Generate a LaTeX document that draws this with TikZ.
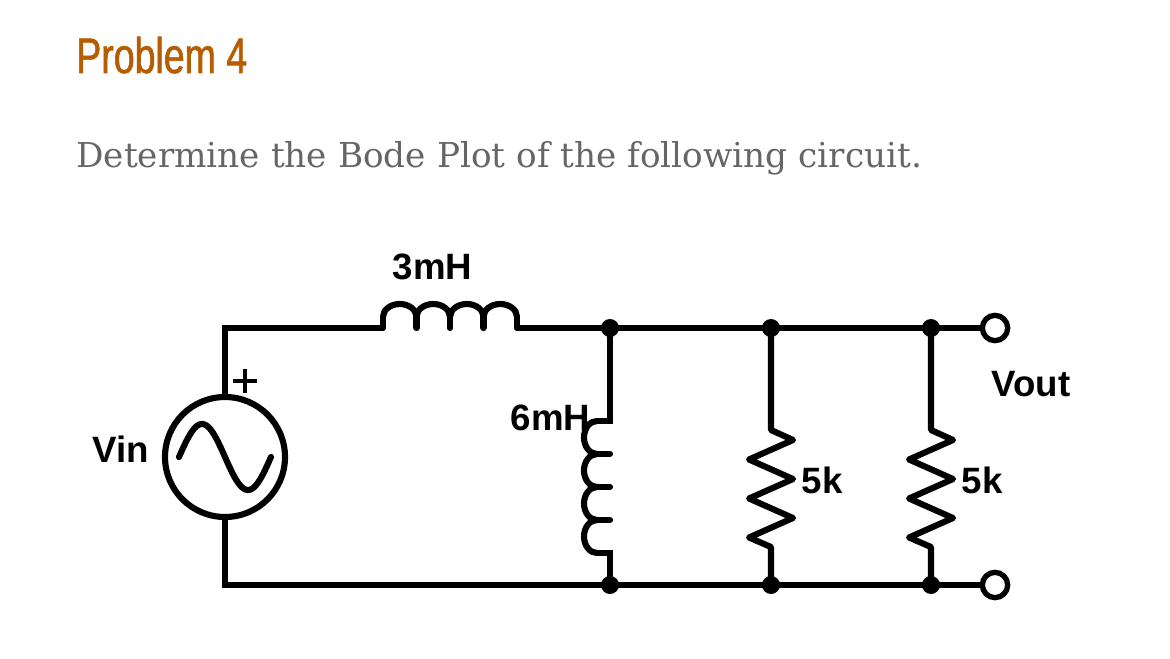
\documentclass[tikz,border=0pt]{standalone}
\usepackage{fontspec}
\usepackage{xcolor}
\usepackage{tikz}
\setmainfont{Liberation Sans}
\newfontfamily\titlefont[FakeStretch=0.75, FakeBold=1.2]{Liberation Sans}
\newfontfamily\questionfont{DejaVu Serif}
\definecolor{titleorange}{HTML}{B55D00}
\definecolor{textgray}{HTML}{666666}

\tikzset{
  wire/.style={line width=4.6pt, line join=miter},
  coil/.style={line width=4.6pt, line cap=round},
  dot/.style={circle, fill=black, inner sep=0pt, minimum size=13.5pt},
  term/.style={circle, draw=black, fill=white, line width=4pt, inner sep=0pt, minimum size=19pt},
  lbl/.style={font=\fontsize{27.5}{30}\selectfont\bfseries, inner sep=0pt, anchor=base}
}

\begin{document}
\begin{tikzpicture}[x=0.75pt,y=0.75pt,yscale=-1,xscale=1]

\useasboundingbox (0,0) rectangle (1170,659);

% heading
\draw (76,73) node (title) [anchor=base west][inner sep=0pt] [text=titleorange, font=\titlefont\fontsize{37.5}{40}\selectfont] {Problem 4};
\draw (76,168) node (question) [anchor=base west][inner sep=0pt] [text=textgray, font=\questionfont\fontsize{25.7}{30}\selectfont] {Determine the Bode Plot of the following circuit.};

% corners and junctions
\coordinate (tl) at (225,328);
\coordinate (bl) at (225,585);
\coordinate (srctop) at (225,397);
\coordinate (srcbot) at (225,517);
\coordinate (L1a) at (383,328);
\coordinate (L1b) at (517,328);
\node (jAt) [dot] at (610,328) {};
\node (jBt) [dot] at (771,328) {};
\node (jCt) [dot] at (931,328) {};
\node (jAb) [dot] at (610,585) {};
\node (jBb) [dot] at (771,585) {};
\node (jCb) [dot] at (931,585) {};
\node (outT) [term] at (995,328) {};
\node (outB) [term] at (995,585) {};

% source
\draw [wire] (225,457) circle [radius=60];
\draw [coil] plot [domain=0:360, samples=60] ({179+0.25556*\x}, {457-33*sin(\x)});
\draw [line width=3pt] (232.5,381) -- (256.5,381) (244.5,369) -- (244.5,393);

% wires
\draw [wire] (srctop) -- (tl) -- (L1a);
\draw [wire] (L1b) -- (jAt.center) -- (jBt.center) -- (jCt.center) -- (outT);
\draw [wire] (srcbot) -- (bl) -- (jAb.center) -- (jBb.center) -- (jCb.center) -- (outB);

% 3mH
\foreach \i in {0,...,3} \draw [coil] ({383+33.5*\i},317) arc [start angle=180, end angle=360, x radius=16.75, y radius=13];
\foreach \i in {0,...,4} \draw [coil] ({383+33.5*\i},317) -- ({383+33.5*\i},328);

% 6mH
\draw [wire] (jAt.center) |- (597,421);
\foreach \i in {0,...,3} \draw [coil] (597,{421+33*\i}) arc [start angle=-90, end angle=-270, x radius=13, y radius=16.5];
\foreach \i in {0,...,4} \draw [coil] (597,{421+33*\i}) -- (610,{421+33*\i});
\draw [wire] (597,553) -| (jAb.center);

% resistors
\foreach \x/\n in {771/B, 931/C} {
  \draw [wire, line join=round] (j\n t.center) -- (\x,430) -- (\x+22,440) -- (\x-22,459.5) -- (\x+22,479) -- (\x-22,498.5) -- (\x+22,518) -- (\x-22,537.5) -- (\x,547) -- (j\n b.center);
}

% labels
\draw (432.5,280) node (lblL1) [lbl] {3mH};
\draw (550.5,430) node (lblL2) [lbl] {6mH};
\draw (121,462) node (lblVin) [lbl] {Vin};
\draw (822,493) node (lblR1) [lbl] {5k};
\draw (982,493) node (lblR2) [lbl] {5k};
\draw (1031,396) node (lblVout) [lbl] {Vout};

\end{tikzpicture}
\end{document}
